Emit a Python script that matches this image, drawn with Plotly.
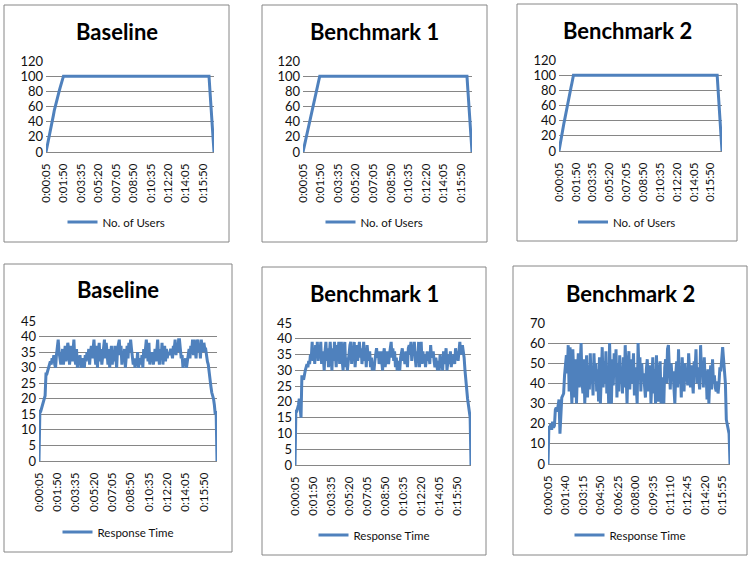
import plotly.graph_objects as go

W, H = 752, 563

# tick labels shown on the category axes
top_ticks = ["0:00:05", "0:01:50", "0:03:35", "0:05:20", "0:07:05",
             "0:08:50", "0:10:35", "0:12:20", "0:14:05", "0:15:50"]
b2_resp_ticks = ["0:00:05", "0:01:40", "0:03:15", "0:04:50", "0:06:25", "0:08:00",
                 "0:09:35", "0:11:10", "0:12:45", "0:14:20", "0:15:55"]

# No. of Users (one sample every 5 s)
users_baseline = [
    0, 5, 11, 16, 22, 27, 33, 38, 44, 49, 55, 60, 65, 69, 73, 77, 81, 85, 89, 93, 97, 100,
    100, 100, 100, 100, 100, 100, 100, 100, 100, 100, 100, 100, 100, 100, 100, 100, 100, 100, 100, 100, 100, 100, 100, 100, 100,
    100, 100, 100, 100, 100, 100, 100, 100, 100, 100, 100, 100, 100, 100, 100, 100, 100, 100, 100, 100, 100, 100, 100, 100, 100,
    100, 100, 100, 100, 100, 100, 100, 100, 100, 100, 100, 100, 100, 100, 100, 100, 100, 100, 100, 100, 100, 100, 100, 100, 100,
    100, 100, 100, 100, 100, 100, 100, 100, 100, 100, 100, 100, 100, 100, 100, 100, 100, 100, 100, 100, 100, 100, 100, 100, 100,
    100, 100, 100, 100, 100, 100, 100, 100, 100, 100, 100, 100, 100, 100, 100, 100, 100, 100, 100, 100, 100, 100, 100, 100, 100,
    100, 100, 100, 100, 100, 100, 100, 100, 100, 100, 100, 100, 100, 100, 100, 100, 100, 100, 100, 100, 100, 100, 100, 100, 100,
    100, 100, 100, 100, 100, 100, 100, 100, 100, 100, 100, 100, 100, 100, 100, 100, 100, 100, 100, 100, 100, 100, 100, 100, 100,
    83, 67, 50, 33, 17, 0,
]
users_bench1 = [
    0, 5, 10, 15, 20, 25, 30, 35, 40, 45, 50, 55, 60, 64, 69, 74, 79, 84, 89, 94, 100,
    100, 100, 100, 100, 100, 100, 100, 100, 100, 100, 100, 100, 100, 100, 100, 100, 100, 100, 100, 100, 100, 100, 100, 100, 100,
    100, 100, 100, 100, 100, 100, 100, 100, 100, 100, 100, 100, 100, 100, 100, 100, 100, 100, 100, 100, 100, 100, 100, 100, 100,
    100, 100, 100, 100, 100, 100, 100, 100, 100, 100, 100, 100, 100, 100, 100, 100, 100, 100, 100, 100, 100, 100, 100, 100, 100,
    100, 100, 100, 100, 100, 100, 100, 100, 100, 100, 100, 100, 100, 100, 100, 100, 100, 100, 100, 100, 100, 100, 100, 100, 100,
    100, 100, 100, 100, 100, 100, 100, 100, 100, 100, 100, 100, 100, 100, 100, 100, 100, 100, 100, 100, 100, 100, 100, 100, 100,
    100, 100, 100, 100, 100, 100, 100, 100, 100, 100, 100, 100, 100, 100, 100, 100, 100, 100, 100, 100, 100, 100, 100, 100, 100,
    100, 100, 100, 100, 100, 100, 100, 100, 100, 100, 100, 100, 100, 100, 100, 100, 100, 100, 100, 100, 100, 100, 100, 100, 100,
    100,
    83, 67, 50, 33, 17, 0,
]
users_bench2 = [
    0, 7, 13, 20, 25, 31, 36, 41, 47, 52, 57, 63, 68, 73, 79, 84, 89, 95, 100,
    100, 100, 100, 100, 100, 100, 100, 100, 100, 100, 100, 100, 100, 100, 100, 100, 100, 100, 100, 100, 100, 100, 100, 100, 100,
    100, 100, 100, 100, 100, 100, 100, 100, 100, 100, 100, 100, 100, 100, 100, 100, 100, 100, 100, 100, 100, 100, 100, 100, 100,
    100, 100, 100, 100, 100, 100, 100, 100, 100, 100, 100, 100, 100, 100, 100, 100, 100, 100, 100, 100, 100, 100, 100, 100, 100,
    100, 100, 100, 100, 100, 100, 100, 100, 100, 100, 100, 100, 100, 100, 100, 100, 100, 100, 100, 100, 100, 100, 100, 100, 100,
    100, 100, 100, 100, 100, 100, 100, 100, 100, 100, 100, 100, 100, 100, 100, 100, 100, 100, 100, 100, 100, 100, 100, 100, 100,
    100, 100, 100, 100, 100, 100, 100, 100, 100, 100, 100, 100, 100, 100, 100, 100, 100, 100, 100, 100, 100, 100, 100, 100, 100,
    100, 100, 100, 100, 100, 100, 100, 100, 100, 100, 100, 100, 100, 100, 100, 100, 100, 100, 100, 100, 100, 100, 100, 100, 100,
    100, 100, 100, 100,
    83, 67, 50, 33, 17, 0,
]

# Response Time (one sample every 5 s)
resp_baseline = [
    0, 16, 16, 17, 18, 19, 20, 21, 28, 28, 29, 30, 31, 32, 31, 33, 32, 34, 31, 30, 34, 36, 39, 35, 33, 31,
    33, 36, 31, 34, 37, 32, 35, 38, 36, 31, 34, 37, 32, 36, 39,
    33, 31, 36, 30, 33, 31, 34, 30, 32, 33, 31, 30, 34, 32, 35,
    33, 36, 31, 35, 37, 33, 36, 39, 34, 31, 37, 30, 35, 38, 32,
    36, 31, 34, 37, 39, 33, 38, 35, 31, 36, 30, 34, 37, 31, 35,
    32, 37, 33, 30, 36, 38, 39, 34, 37, 31, 35, 33, 36, 30, 34,
    37, 33, 38, 35, 39, 36, 33, 31, 33, 30, 32, 31, 35, 30, 32,
    33, 31, 34, 30, 36, 33, 37, 39, 35, 32, 38, 31, 34, 33, 35,
    31, 33, 36, 32, 38, 39, 34, 31, 36, 33, 38, 31, 35, 37, 32,
    36, 33, 35, 34, 35, 36, 35, 33, 37, 36, 39, 34, 38, 35, 39,
    39, 36, 33, 34, 30, 32, 31, 33, 30, 32, 34, 36, 33, 37, 35,
    39, 34, 39, 36, 33, 38, 39, 35, 37, 33, 39, 36, 35, 38, 36,
    36, 33, 32,
    31, 28, 26, 24, 22, 21, 20, 18, 15, 16, 0,
]
resp_bench1 = [
    0, 17, 17, 18, 19, 21, 18, 15, 28, 28, 27, 29, 30, 31, 32, 31, 33, 32, 35, 34,
    39, 33, 36, 32, 38, 34, 39, 33, 37, 35, 39, 32, 36, 34, 30,
    36, 39, 33, 37, 31, 35, 39, 34, 30, 37, 33, 39, 36, 31, 38,
    35, 39, 32, 36, 39, 33, 30, 37, 39, 31, 34, 30, 33, 36, 38,
    39, 32, 37, 34, 39, 31, 35, 38, 33, 36, 39, 34, 37, 32, 35,
    39, 33, 36, 31, 38, 35, 33, 36, 31, 34, 30, 32, 30, 33, 35,
    37, 34, 36, 32, 35, 36, 33, 30, 35, 37, 31, 33, 36, 34, 32,
    35, 38, 39, 34, 37, 33, 36, 31, 34, 30, 33, 31, 30, 34, 36,
    37, 33, 35, 32, 36, 34, 31, 37, 38, 35, 39, 33, 38, 36, 39,
    34, 31, 36, 33, 39, 31, 37, 39, 32, 36, 33, 35, 31, 34, 36,
    33, 35, 32, 38, 34, 35, 36, 33, 31, 34, 32, 30, 33, 30, 35,
    31, 33, 30, 36, 32, 34, 37, 30, 33, 35, 32, 36, 31, 34, 33,
    35, 32, 37, 34, 36, 33, 38, 39, 35, 37, 38, 36,
    34, 30, 26, 22, 21, 19, 17, 15, 0,
]
resp_bench2 = [
    0, 19, 17, 20, 17, 21, 18, 19, 27, 28, 26, 31, 32, 15, 30, 33, 34, 35, 44,
    50, 54, 45, 59, 36, 58, 42, 30, 57, 48, 33, 52, 30, 46, 55,
    38, 47, 60, 41, 35, 52, 30, 44, 54, 33, 49, 37, 55, 40, 46,
    34, 55, 42, 50, 36, 47, 31, 53, 30, 45, 58, 38, 51, 40, 56,
    35, 48, 30, 60, 42, 30, 52, 39, 55, 44, 57, 33, 50, 36, 54,
    41, 47, 35, 53, 38, 59, 45, 30, 49, 56, 37, 52, 40, 43, 55,
    34, 48, 39, 30, 60, 46, 53, 36, 50, 41, 45, 38, 33, 47, 52,
    36, 44, 49, 30, 42, 53, 35, 47, 30, 54, 38, 31, 46, 51, 30,
    43, 39, 30, 48, 52, 40, 57, 59, 44, 37, 50, 42, 46, 35, 30,
    45, 51, 38, 57, 40, 48, 33, 53, 43, 36, 50, 41, 47, 39, 55,
    44, 38, 49, 42, 35, 51, 46, 57, 40, 48, 43, 37, 59, 45, 50,
    38, 53, 41, 46, 32, 47, 30, 42, 49, 37, 52, 40, 44, 38, 36,
    41, 35, 40, 48, 46, 54, 58, 52, 45,
    40, 22, 19, 17, 15, 0,
]


def stamps(n):
    out = []
    for i in range(n):
        s = 5 * (i + 1)
        out.append("%d:%02d:%02d" % (s // 3600, s // 60 % 60, s % 60))
    return out


# title, series, values, ticks, ymax, dtick, box (l,t,r,b), plot area (l,t,r,b), title y, legend y  (pixels)
charts = [
    ("Baseline", "No. of Users", users_baseline, top_ticks, 120, 20,
     (4, 5, 229, 242), (46, 61, 214, 152), 31, 222),
    ("Benchmark 1", "No. of Users", users_bench1, top_ticks, 120, 20,
     (262, 5, 487, 242), (303, 61, 472, 152), 31, 222),
    ("Benchmark 2", "No. of Users", users_bench2, top_ticks, 120, 20,
     (517, 4, 737, 241), (559, 60, 722, 151), 30, 222),
    ("Baseline", "Response Time", resp_baseline, top_ticks, 45, 5,
     (4, 264, 232, 552), (39, 321, 217, 461), 289, 532),
    ("Benchmark 1", "Response Time", resp_bench1, top_ticks, 45, 5,
     (262, 267, 486, 555), (295, 323, 471, 465), 293, 535),
    ("Benchmark 2", "Response Time", resp_bench2, b2_resp_ticks, 70, 10,
     (513, 266, 747, 555), (548, 323, 730, 464), 293, 535),
]

BLUE = "#4F81BD"
GRID = "#868686"

fig = go.Figure()
shapes = []
annotations = []
layout = {}

for i, (title, name, vals, ticks, ymax, dtick, box, area, ty, ly) in enumerate(charts):
    k = "" if i == 0 else str(i + 1)
    cats = stamps(len(vals))
    fig.add_trace(go.Scatter(
        x=cats, y=vals, mode="lines", name=name,
        line=dict(color=BLUE, width=3),
        xaxis="x" + k, yaxis="y" + k,
        legend="legend" + k, showlegend=True,
    ))
    l, t, r, b = area
    layout["xaxis" + k] = dict(
        domain=[l / W, r / W], anchor="y" + k, type="category",
        range=[0, len(vals) - 1], tickmode="array", tickvals=ticks,
        tickangle=-90, showgrid=False, showline=True, linecolor=GRID,
        linewidth=1, ticks="", ticklabelstandoff=6,
        tickfont=dict(size=11.5, color="#111111"),
    )
    layout["yaxis" + k] = dict(
        domain=[1 - b / H, 1 - t / H], anchor="x" + k,
        range=[0, ymax], dtick=dtick, showgrid=True, gridcolor=GRID,
        gridwidth=1, zeroline=False, showline=False, ticks="",
        ticklabelstandoff=2, tickfont=dict(size=13, color="#111111"),
    )
    bl, bt, br, bb = box
    shapes.append(dict(type="rect", xref="paper", yref="paper",
                       x0=bl / W, x1=br / W, y0=1 - bb / H, y1=1 - bt / H,
                       line=dict(color=GRID, width=1), fillcolor="rgba(0,0,0,0)"))
    annotations.append(dict(text="<b>%s</b>" % title, xref="paper", yref="paper",
                            x=(bl + br) / 2 / W, y=1 - ty / H, showarrow=False,
                            xanchor="center", yanchor="middle",
                            font=dict(size=22, color="#000000")))
    layout["legend" + k] = dict(x=(bl + br) / 2 / W, y=1 - ly / H,
                                xanchor="center", yanchor="middle",
                                orientation="h", font=dict(size=11.5, color="#111111"),
                                bgcolor="rgba(0,0,0,0)")

fig.update_layout(
    width=W, height=H, margin=dict(l=0, r=0, t=0, b=0, autoexpand=False),
    paper_bgcolor="white", plot_bgcolor="white",
    font=dict(family="Lato, Calibri, sans-serif"),
    shapes=shapes, annotations=annotations, **layout,
)

fig.write_html("out.html", config={"displayModeBar": False},
               post_script="document.body.style.margin='0';")
